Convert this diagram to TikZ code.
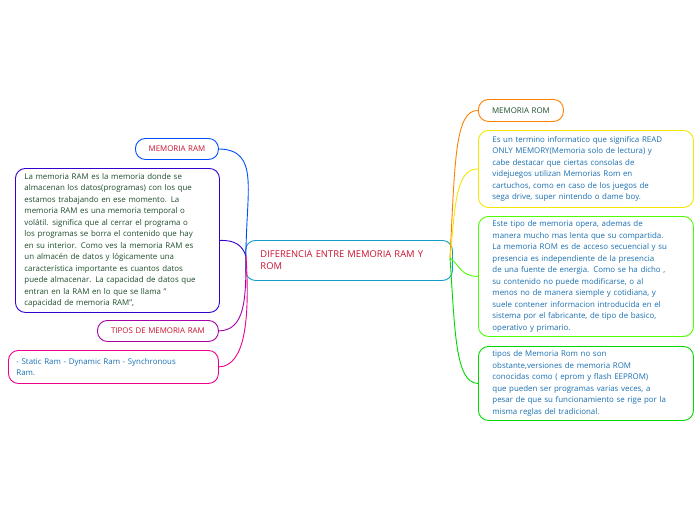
\documentclass[tikz,border=0pt]{standalone}
\usepackage{fontspec}
\setmainfont{Open Sans}
\begin{document}
\begin{tikzpicture}[x=1pt,y=-1pt,
 box/.style={draw,rounded corners=10pt,line width=0.9pt,anchor=north west,align=left,inner xsep=9pt,inner ysep=0pt,font=\fontsize{7.9}{11.5}\selectfont},
 con/.style={line width=0.9pt}]
\useasboundingbox (0,0) rectangle (696,520);
\definecolor{cred}{HTML}{C8102E}
\definecolor{cgreen}{HTML}{1E4D2B}
\definecolor{cblue}{HTML}{1A6FB0}
\node[box,draw=cblue!70!cyan,text width=177pt,minimum height=40pt,font=\fontsize{9.4}{12}\selectfont,text=cred,inner xsep=15pt] (c) at (245,240) {DIFERENCIA ENTRE MEMORIA RAM Y\\ROM};
\node[box,draw=blue!70!cyan,text width=65pt,minimum height=21pt,text=cred] (mr) at (135,138) {\hfill MEMORIA RAM\hfill\null};
\node[box,draw=blue!60!violet,text width=186pt,minimum height=144pt,text=cgreen] (d) at (15,168) {La memoria RAM es la memoria donde se\\almacenan los datos(programas) con los que\\estamos trabajando en ese momento. La\\memoria RAM es una memoria temporal o\\volátil. significa que al cerrar el programa  o\\los programas se borra el contenido que hay\\en su interior. Como ves la memoria RAM  es\\un almacén de datos y lógicamente  una\\característica importante es cuantos datos\\puede almacenar. La capacidad de datos que\\entran en la RAM en lo que se llama "\\capacidad de memoria RAM",};
\node[box,draw=violet!70!magenta,text width=103pt,minimum height=21pt,text=cred] (t) at (97,320) {\hfill TIPOS DE MEMORIA RAM\hfill\null};
\node[box,draw=magenta,text width=194pt,minimum height=33pt,text=cblue,inner xsep=8pt] (s) at (8,350) {- Static Ram  - Dynamic Ram - Synchronous\\Ram.};
\node[box,draw=orange,text width=67pt,minimum height=22pt,text=cgreen] (mo) at (478,99) {\hfill MEMORIA ROM\hfill\null};
\node[box,draw=yellow!90!olive,text width=187pt,minimum height=77pt,text=cblue,inner xsep=14pt] (r1) at (478,130) {Es un termino informatico que significa READ\\ONLY MEMORY(Memoria solo de lectura) y\\cabe destacar que ciertas consolas de\\videjuegos utilizan Memorias Rom en\\cartuchos, como en caso de los juegos de\\sega drive, super nintendo o dame boy.};
\node[box,draw=green!70!yellow,text width=187pt,minimum height=120pt,text=cblue,inner xsep=14pt] (r2) at (478,216) {Este tipo de  memoria opera, ademas de\\manera mucho mas lenta que su compartida.\\La memoria ROM es de acceso secuencial y su\\presencia es independiente de  la presencia\\de una fuente de energia. Como se ha dicho ,\\su contenido no puede modificarse, o al\\menos no de manera siemple y cotidiana, y\\suele contener informacion introducida en el\\sistema por el fabricante, de tipo de basico,\\operativo y primario.};
\node[box,draw=green!85!black,text width=187pt,minimum height=74pt,text=cblue,inner xsep=14pt] (r3) at (478,346) {tipos de Memoria Rom no son\\obstante,versiones de memoria ROM\\conocidas como ( eprom y flash EEPROM)\\que pueden ser programas varias veces, a\\pesar de que su funcionamiento se rige por la\\misma reglas del tradicional.};
\coordinate (cl) at (246,256);
\coordinate (cr) at (450,258);
\draw[con,blue!70!cyan] (cl) .. controls (246,190) and (260,150) .. (mr.east);
\draw[con,blue!60!violet] (cl) .. controls (242,245) and (235,240) .. (d.east);
\draw[con,violet!70!magenta] (cl) .. controls (246,300) and (245,330) .. (t.east);
\draw[con,magenta] (cl) .. controls (250,320) and (245,366) .. (s.east);
\draw[con,orange] (cr) .. controls (455,160) and (455,110) .. (mo.west);
\draw[con,yellow!90!olive] (cr) .. controls (455,210) and (455,168) .. (r1.west);
\draw[con,green!70!yellow] (cr) .. controls (460,265) and (460,276) .. (r2.west);
\draw[con,green!85!black] (cr) .. controls (455,330) and (455,383) .. (r3.west);
\end{tikzpicture}
\end{document}
